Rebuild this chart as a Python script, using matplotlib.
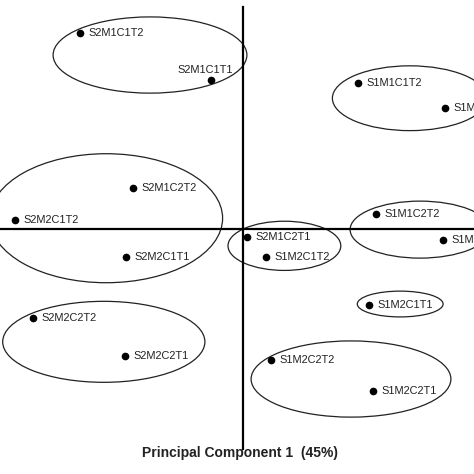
import matplotlib
matplotlib.use("Agg")
import matplotlib.pyplot as plt
from matplotlib.patches import Ellipse

# sample scores on the first two components
names = ["S2M1C1T2", "S2M1C1T1", "S1M1C1T2", "S1M1C1T1",
         "S2M1C2T2", "S2M2C1T2", "S1M1C2T2", "S2M1C2T1",
         "S1M1C2T1", "S2M2C1T1", "S1M2C1T2", "S1M2C1T1",
         "S2M2C2T2", "S2M2C2T1", "S1M2C2T2", "S1M2C2T1"]
pc1 = [-2.72, -0.53, 1.92, 3.37, -1.83, -3.80, 2.22, 0.07,
       3.33, -1.95, 0.38, 2.10, -3.50, -1.97, 0.47, 2.17]
pc2 = [3.27, 2.48, 2.43, 2.02, 0.68, 0.15, 0.25, -0.13,
       -0.18, -0.47, -0.47, -1.27, -1.48, -2.12, -2.18, -2.70]

# group ellipses: centre x, centre y, width, height
ell_x = [-1.55, 2.78, -2.28, 0.69, 2.95, 2.62, -2.32, 1.80]
ell_y = [2.90, 2.18, 0.18, -0.28, -0.01, -1.25, -1.88, -2.50]
ell_w = [3.23, 2.58, 3.88, 1.88, 2.33, 1.43, 3.37, 3.33]
ell_h = [1.27, 1.08, 2.15, 0.82, 0.95, 0.43, 1.35, 1.27]

fig = plt.figure(figsize=(4.74, 4.74), dpi=100)
ax = fig.add_axes([0, 0, 1, 1])
ax.set_xlim(-4.05, 3.85)
ax.set_ylim(-4.083, 3.817)
ax.axis("off")

ax.plot([0, 0], [-3.67, 3.70], color="black", lw=1.6)
ax.axhline(0, color="black", lw=1.6)

for cx, cy, w, h in zip(ell_x, ell_y, ell_w, ell_h):
    ax.add_patch(Ellipse((cx, cy), w, h, fill=False, ec="#222222", lw=0.9))

ax.plot(pc1, pc2, "o", color="black", ms=4.5)

font = "Liberation Sans"
for n, x, y in zip(names, pc1, pc2):
    if n == "S2M1C1T1":
        ax.annotate(n, (x, y), xytext=(-24, 7), textcoords="offset points",
                    ha="left", va="center", fontsize=7.9, family=font, color="#222222")
    else:
        ax.annotate(n, (x, y), xytext=(6, 0), textcoords="offset points",
                    ha="left", va="center", fontsize=7.9, family=font, color="#222222")

fig.text(240 / 474, 1 - 453 / 474, "Principal Component 1  (45%)", ha="center",
         va="center", fontsize=10, fontweight="bold", family=font, color="#222222")

fig.savefig("out.png", dpi=100)
